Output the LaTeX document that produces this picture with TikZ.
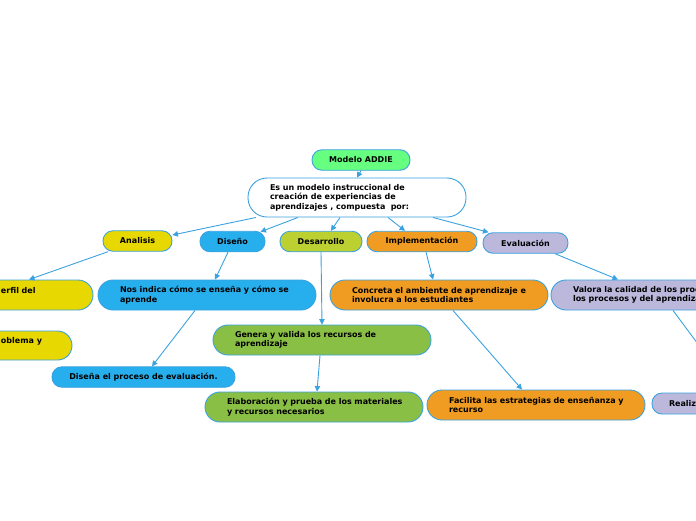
\documentclass[tikz,border=0pt]{standalone}
\usepackage{fontspec}
\setmainfont{DejaVu Sans}
\usetikzlibrary{arrows.meta}
\definecolor{bordblue}{HTML}{3AA2E0}
\definecolor{cgreenlt}{HTML}{66FF80}
\definecolor{cyellow}{HTML}{E6D800}
\definecolor{cblue}{HTML}{27AEEC}
\definecolor{colive}{HTML}{BCD032}
\definecolor{corange}{HTML}{F09C22}
\definecolor{clav}{HTML}{BCB8DC}
\definecolor{cgreen}{HTML}{8ABF46}
\hbadness=10000 \hfuzz=200pt
\tikzset{
  box/.style={draw=bordblue, line width=0.9pt, inner sep=0pt, font=\fontsize{8}{9.6}\selectfont\bfseries, text=black},
  small/.style={box, rounded corners=10pt, minimum height=20.5pt, align=center},
  wide/.style={box, rounded corners=15pt, minimum width=218pt, minimum height=30pt, align=left, text width=174pt},
  conn/.style={draw=bordblue, line width=0.9pt, -{Triangle[width=5.5pt,length=5.5pt]}},
}
\begin{document}
\begin{tikzpicture}[x=1pt,y=-1pt]
\useasboundingbox (0,0) rectangle (696,520);
\clip (0,0) rectangle (696,520);
% top
\node[small, fill=cgreenlt, minimum width=98pt] (addie) at (361,160) {Modelo ADDIE};
\node[box, fill=white, rounded corners=19pt, minimum width=218pt, minimum height=39pt, align=left, text width=174pt] (main) at (357,197.5)
  {\mbox{Es un modelo instruccional de}\\\mbox{creación de experiencias de}\\\mbox{aprendizajes , compuesta\ \ por:}};
% phases
\node[small, fill=cyellow, minimum width=69pt] (ana) at (137.5,241) {Analisis};
\node[small, fill=cblue, minimum width=65pt] (dis) at (232.5,241.5) {Diseño};
\node[small, fill=colive, minimum width=82pt] (des) at (321,241.5) {Desarrollo};
\node[small, fill=corange, minimum width=110pt] (imp) at (422,241.5) {Implementación};
\node[small, fill=clav, minimum width=85pt] (eva) at (525.5,243) {Evaluación};
% second level
\node[box, fill=cyellow, rounded corners=15pt, minimum width=114pt, minimum height=30pt, align=left, text width=70pt] (perfil) at (36,295) {erfil del\\\mbox{}};
\node[box, fill=cyellow, rounded corners=14.5pt, minimum width=93pt, minimum height=29pt, align=left, text width=49pt] (prob) at (25.5,345.5) {oblema y\\\mbox{}};
\node[wide, fill=cblue] (nos) at (207,295) {\mbox{Nos indica cómo se enseña y cómo se}\\aprende};
\node[small, fill=cblue, minimum width=183pt] (dise) at (143.5,377) {Diseña el proceso de evaluación.};
\node[wide, fill=cgreen] (gen) at (322,340) {\mbox{Genera y valida los recursos de}\\aprendizaje};
\node[wide, fill=cgreen] (ela) at (314,407) {\mbox{Elaboración y prueba de los materiales}\\\mbox{y recursos necesarios}};
\node[wide, fill=corange] (con) at (439,295) {\mbox{Concreta el ambiente de aprendizaje e}\\\mbox{involucra a los estudiantes}};
\node[wide, fill=corange] (fac) at (536,405) {\mbox{Facilita las estrategias de enseñanza y}\\recurso};
\node[wide, fill=clav] (val) at (660,295) {\mbox{Valora la calidad de los proc}\\\mbox{los procesos y del aprendiza}};
\node[box, fill=clav, rounded corners=10pt, minimum width=128pt, minimum height=21pt, align=left, text width=94pt] (real) at (716,403.5) {Realiz};
% connectors
\draw[conn] (addie.south) -- (main.north);
\draw[conn] ([xshift=-101pt]main.south) -- ([yshift=6pt]ana.east);
\draw[conn] ([xshift=-59pt]main.south) -- ([xshift=28pt,yshift=-1pt]dis.north);
\draw[conn] ([xshift=-17pt]main.south) -- ([xshift=10pt]des.north);
\draw[conn] ([xshift=31pt]main.south) -- ([xshift=-17pt]imp.north);
\draw[conn] ([xshift=76pt]main.south) -- ([xshift=-37pt]eva.north);
\draw[conn] ([xshift=-29.5pt]ana.south) -- ([xshift=-7pt]perfil.north);
\draw[conn] ([xshift=-4.5pt]dis.south) -- ([xshift=8pt]nos.north);
\draw[conn] (des.south) -- (gen.north);
\draw[conn] ([xshift=4pt]imp.south) -- ([xshift=-6pt]con.north);
\draw[conn] ([xshift=29.5pt]eva.south) -- ([xshift=-42pt]val.north);
\draw[conn] ([xshift=-12pt]nos.south) -- ([xshift=8.5pt]dise.north);
\draw[conn] ([xshift=-2pt]gen.south) -- ([xshift=3pt]ela.north);
\draw[conn] ([xshift=14pt]con.south) -- ([xshift=-14pt]fac.north);
\draw[conn] ([xshift=13pt]val.south) -- ([xshift=18pt]real.north);
\end{tikzpicture}
\end{document}
